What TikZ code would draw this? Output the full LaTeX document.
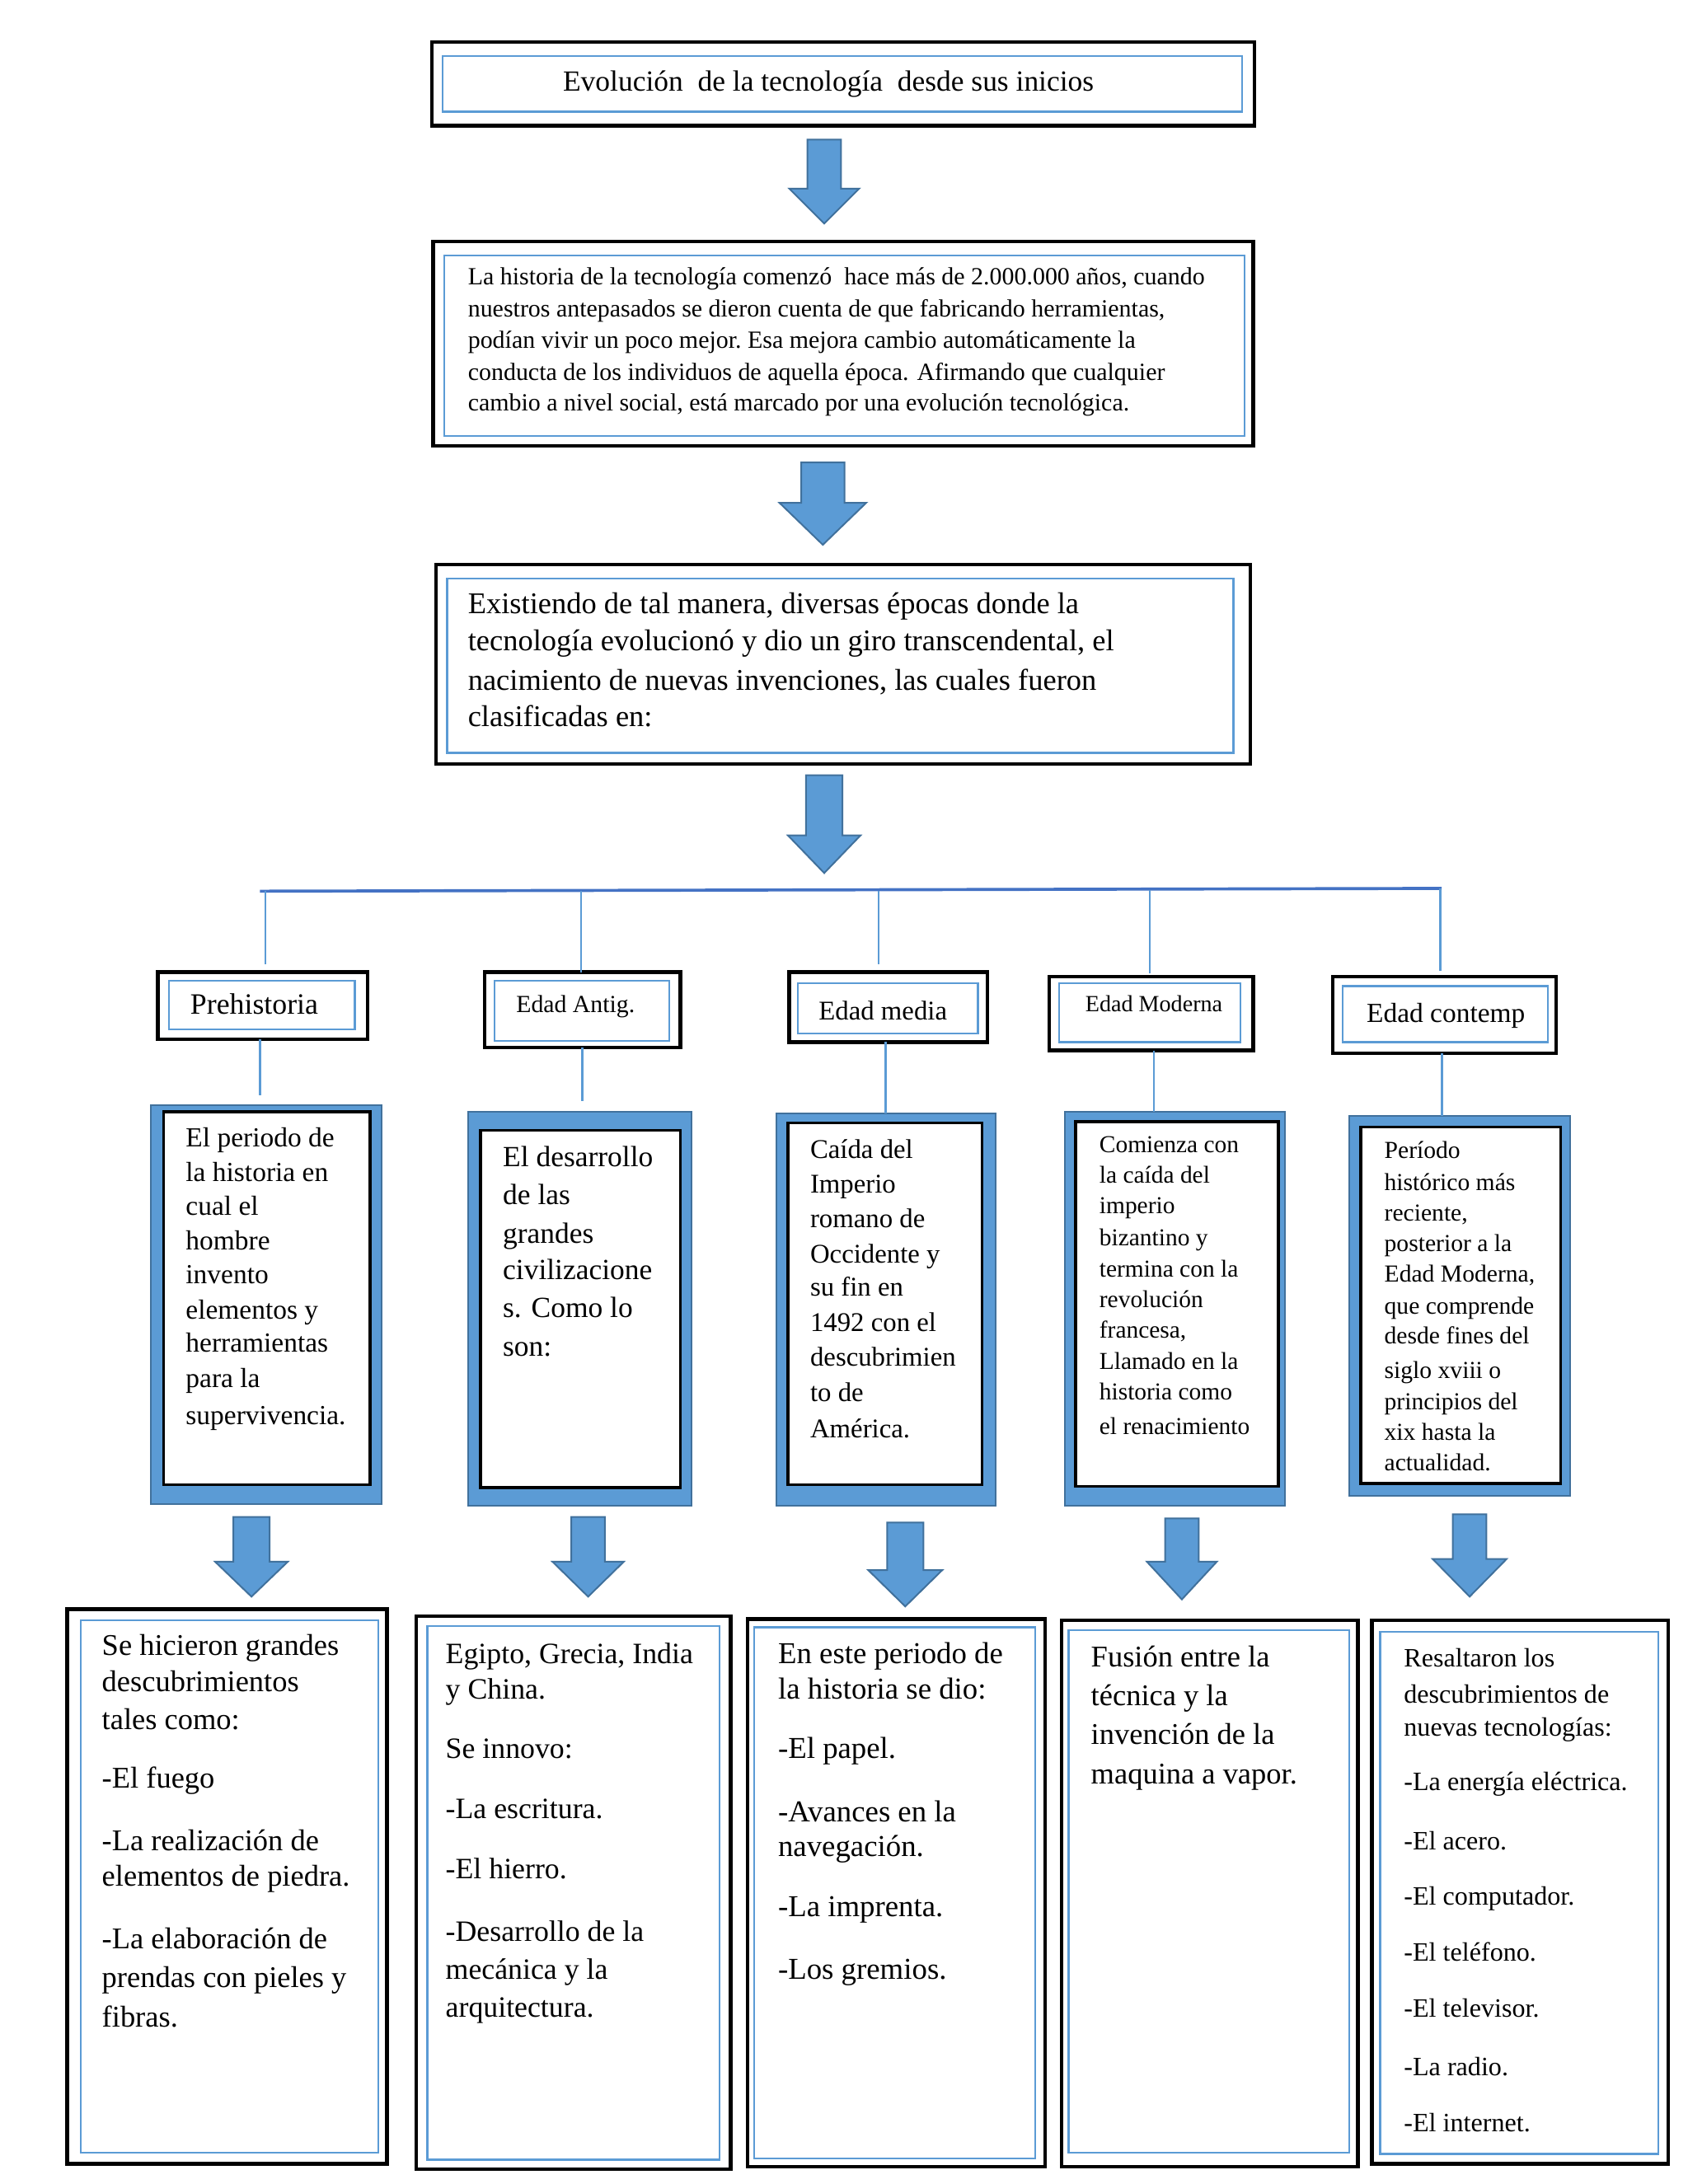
\documentclass[tikz,border=0pt]{standalone}
\usepackage{fontspec}
\setmainfont{Liberation Serif}
\definecolor{ablue}{HTML}{5B9BD5}
\definecolor{dblue}{HTML}{41719C}
\definecolor{busblue}{HTML}{4472C4}
\newcommand\fs[1]{\fontsize{#1pt}{#1pt}\selectfont}
\newcommand\rbox[6]{\node[#6, inner sep=0pt, outer sep=0pt, minimum width={(#4-#2)*0.5066pt}, minimum height={(#5-#3)*0.5066pt}] (#1) at ({(#2+#4)/2},{(#3+#5)/2}) {};}
\newcommand\barr[6]{\path[barrow] ({#1-#5},#2) -- ({#1+#5},#2) -- ({#1+#5},#3) -- ({#1+#6},#3) -- (#1,#4) -- ({#1-#6},#3) -- ({#1-#5},#3) -- cycle;}
\tikzset{
  outerbox/.style={draw=black, line width=1.3pt},
  innerbox/.style={draw=ablue, line width=0.7pt},
  framebox/.style={fill=ablue, draw=dblue, line width=0.6pt},
  whitebox/.style={fill=white, draw=black, line width=1pt},
  conn/.style={draw=ablue, line width=0.8pt},
  barrow/.style={fill=ablue, draw=dblue, line width=0.6pt},
  txt/.style={anchor=base west, inner sep=0pt, outer sep=0pt},
  ctxt/.style={anchor=base, inner sep=0pt, outer sep=0pt}
}
\begin{document}
\begin{tikzpicture}[x=0.5066pt, y=-0.5066pt]
\useasboundingbox (0,0) rectangle (1208,1563.5);
\fill[white] (0,0) rectangle (1208,1563.5);

% ---------- top boxes ----------
\rbox{t0}{309}{30}{898}{90}{outerbox}
\rbox{t0i}{317}{40}{889}{80}{innerbox}
\node[ctxt, font=\fs{10.6}] (t0t) at (593,65) {Evolución\ \ de la tecnología\ \ desde sus inicios};

\rbox{t1}{310}{173}{897}{319}{outerbox}
\rbox{t1i}{318}{183}{891}{312}{innerbox}
\foreach \yy/\ln [count=\i] in {
  200/{La historia de la tecnología comenzó\ \ hace más de 2.000.000 años, cuando},
  223/{nuestros antepasados se dieron cuenta de que fabricando herramientas,},
  245/{podían vivir un poco mejor.\ Esa mejora cambio\ automáticamente la},
  268/{conducta de los individuos de aquella época. Afirmando que cualquier},
  290/{cambio a nivel social, está marcado\ por una evolución\ tecnológica.}}
  \node[txt, font=\fs{8.95}] (t1t\i) at (335,{\yy+4}) {\ln};

\rbox{t2}{312}{404}{895}{547}{outerbox}
\rbox{t2i}{320}{414}{883}{539}{innerbox}
\foreach \yy/\ln [count=\i] in {
  434/{Existiendo\ de tal manera, diversas épocas donde la},
  461/{tecnología\ evolucionó\ y dio un giro\ transcendental, el},
  489/{nacimiento\ de nuevas invenciones,\ las cuales fueron},
  515/{clasificadas en:}}
  \node[txt, font=\fs{10.9}] (t2t\i) at (335,{\yy+5}) {\ln};

\barr{590}{100}{135}{160}{12}{25}
\barr{589}{331}{360}{390}{15.5}{31}
\barr{590}{555}{598}{625}{13}{26}

% ---------- bus ----------
\coordinate (busL) at (186,638);
\coordinate (busR) at (1032,636);
\draw[draw=busblue, line width=1.1pt] (busL) -- (busR);

% ---------- category boxes ----------
\rbox{c1}{113}{696}{263}{744}{outerbox}
\rbox{c1i}{121}{702}{254}{737}{innerbox}
\node[ctxt, font=\fs{10.7}] (c1t) at (182,726) {Prehistoria};
\rbox{c2}{347}{696}{487}{750}{outerbox}
\rbox{c2i}{354}{702}{479}{745}{innerbox}
\node[ctxt, font=\fs{8.9}] (c2t) at (412,725) {Edad Antig.};
\rbox{c3}{565}{696}{707}{746}{outerbox}
\rbox{c3i}{571}{704}{700}{740}{innerbox}
\node[ctxt, font=\fs{9.8}] (c3t) at (632,730) {Edad media};
\rbox{c4}{751}{699}{897}{752}{outerbox}
\rbox{c4i}{758}{704}{888}{746}{innerbox}
\node[ctxt, font=\fs{8.4}] (c4t) at (826,724) {Edad Moderna};
\rbox{c5}{954}{699}{1114}{754}{outerbox}
\rbox{c5i}{961}{706}{1108}{746}{innerbox}
\node[ctxt, font=\fs{10}] (c5t) at (1035,732) {Edad contemp};

\coordinate (b1) at (190,638);
\coordinate (b2) at (416,638);
\coordinate (b3) at (629,637.5);
\coordinate (b4) at (823,637);
\coordinate (b5) at (1031,636);
\draw[conn, shorten >=3pt] (b1) -- (b1 |- c1.north);
\draw[conn] (b2) -- (b2 |- c2.north);
\draw[conn, shorten >=3pt] (b3) -- (b3 |- c3.north);
\draw[conn, shorten >=1pt] (b4) -- (b4 |- c4.north);
\draw[conn, shorten >=2pt] (b5) -- (b5 |- c5.north);

% ---------- description boxes ----------
\rbox{d1}{108}{791}{273}{1077}{framebox}
\rbox{d1i}{117}{796}{265}{1063}{whitebox}
\rbox{d2}{335}{796}{495}{1078}{framebox}
\rbox{d2i}{344}{809}{487}{1065}{whitebox}
\rbox{d3}{556}{797}{713}{1078}{framebox}
\rbox{d3i}{564}{804}{703}{1063}{whitebox}
\rbox{d4}{762}{796}{920}{1078}{framebox}
\rbox{d4i}{770}{803}{915}{1064}{whitebox}
\rbox{d5}{966}{799}{1124}{1071}{framebox}
\rbox{d5i}{974}{807}{1117}{1062}{whitebox}

\coordinate (e1) at (186,744);
\coordinate (e2) at (417,750);
\coordinate (e3) at (634,746);
\coordinate (e4) at (826,752);
\coordinate (e5) at (1032,754);
\draw[conn, shorten >=3.5pt] (e1) -- (e1 |- d1.north);
\draw[conn, shorten >=4pt] (e2) -- (e2 |- d2.north);
\draw[conn] (e3) -- (e3 |- d3.north);
\draw[conn] (e4) -- (e4 |- d4.north);
\draw[conn] (e5) -- (e5 |- d5.north);

\foreach \yy/\ln [count=\i] in {816/El periodo de, 841/la historia en, 865/cual el, 890/hombre, 914/invento, 939/elementos y, 963/herramientas, 988/para la, 1015/supervivencia.}
  \node[txt, font=\fs{10}] (d1t\i) at (133,{\yy+5}) {\ln};
\foreach \yy/\ln [count=\i] in {830/El desarrollo, 857/de las, 885/grandes, 911/civilizacione, 938/s. Como lo, 966/son:}
  \node[txt, font=\fs{10.6}] (d2t\i) at (360,{\yy+5}) {\ln};
\foreach \yy/\ln [count=\i] in {824/Caída del, 849/Imperio, 874/romano de, 899/Occidente y, 923/su fin\ en, 948/1492\ con el, 973/descubrimien, 998/to de, 1024/América.}
  \node[txt, font=\fs{9.8}] (d3t\i) at (580,{\yy+5}) {\ln};
\foreach \yy/\ln [count=\i] in {821/Comienza con, 843/la caída del, 865/imperio, 888/bizantino y, 910/termina con la, 932/revolución, 954/{francesa,}, 976/Llamado\ en la, 998/historia como, 1023/el renacimiento}
  \node[txt, font=\fs{8.8}] (d4t\i) at (787,{\yy+4}) {\ln};
\foreach \yy/\ln [count=\i] in {825/Período, 848/histórico más, 870/{reciente,}, 892/posterior a la, 914/{Edad Moderna,}, 937/que comprende, 958/desde fines del, 983/siglo xviii\ o, 1005/principios del, 1027/xix hasta la, 1049/actualidad.}
  \node[txt, font=\fs{8.85}] (d5t\i) at (991,{\yy+4}) {\ln};

% ---------- arrows ----------
\barr{180}{1086}{1118}{1143}{13}{26}
\barr{421}{1086}{1118}{1143}{12}{25.5}
\barr{648}{1090}{1124}{1150}{13}{26.5}
\barr{846}{1087}{1118}{1145}{12}{25}
\barr{1052}{1084}{1116}{1143}{12}{26.5}

% ---------- bottom boxes ----------
\rbox{f1}{48}{1152}{277}{1549}{outerbox}
\rbox{f1i}{58}{1160}{271}{1541}{innerbox}
\rbox{f2}{298}{1157}{523}{1553}{outerbox}
\rbox{f2i}{306}{1164}{515}{1546}{innerbox}
\rbox{f3}{535}{1159}{748}{1551}{outerbox}
\rbox{f3i}{540}{1165}{741}{1545}{innerbox}
\rbox{f4}{760}{1160}{972}{1551}{outerbox}
\rbox{f4i}{765}{1167}{966}{1541}{innerbox}
\rbox{f5}{982}{1160}{1194}{1549}{outerbox}
\rbox{f5i}{988}{1168}{1187}{1542}{innerbox}

\foreach \yy/\ln [count=\i] in {1180/Se hicieron\ grandes, 1206/descubrimientos, 1233/tales como:, 1275/-El fuego, 1320/-La realización\ de, 1345/elementos de piedra., 1390/-La elaboración de, 1418/prendas con pieles\ y, 1446/fibras.}
  \node[txt, font=\fs{10.9}] (f1t\i) at (73,{\yy+5}) {\ln};
\foreach \yy/\ln [count=\i] in {1186/{Egipto,\ Grecia, India}, 1211/y China., 1254/Se innovo:, 1297/-La escritura., 1340/-El hierro., 1385/-Desarrollo de la, 1412/mecánica y la, 1439/arquitectura.}
  \node[txt, font=\fs{10.7}] (f2t\i) at (319,{\yy+5}) {\ln};
\foreach \yy/\ln [count=\i] in {1186/En este periodo\ de, 1211/la historia\ se dio:, 1254/-El papel., 1299/-Avances en la, 1324/navegación., 1367/-La imprenta., 1412/-Los\ gremios.}
  \node[txt, font=\fs{11}] (f3t\i) at (557,{\yy+5}) {\ln};
\foreach \yy/\ln [count=\i] in {1188/Fusión\ entre la, 1216/técnica y la, 1244/invención\ de la, 1272/maquina\ a vapor.}
  \node[txt, font=\fs{10.9}] (f4t\i) at (781,{\yy+5}) {\ln};
\foreach \yy/\ln [count=\i] in {1189/Resaltaron los, 1215/descubrimientos de, 1239/nuevas tecnologías:, 1278/-La\ energía eléctrica., 1320/-El\ acero., 1360/-El\ computador., 1400/-El\ teléfono., 1440/-El\ televisor., 1482/-La\ radio., 1522/-El\ internet.}
  \node[txt, font=\fs{9.6}] (f5t\i) at (1005,{\yy+4}) {\ln};
\end{tikzpicture}
\end{document}
